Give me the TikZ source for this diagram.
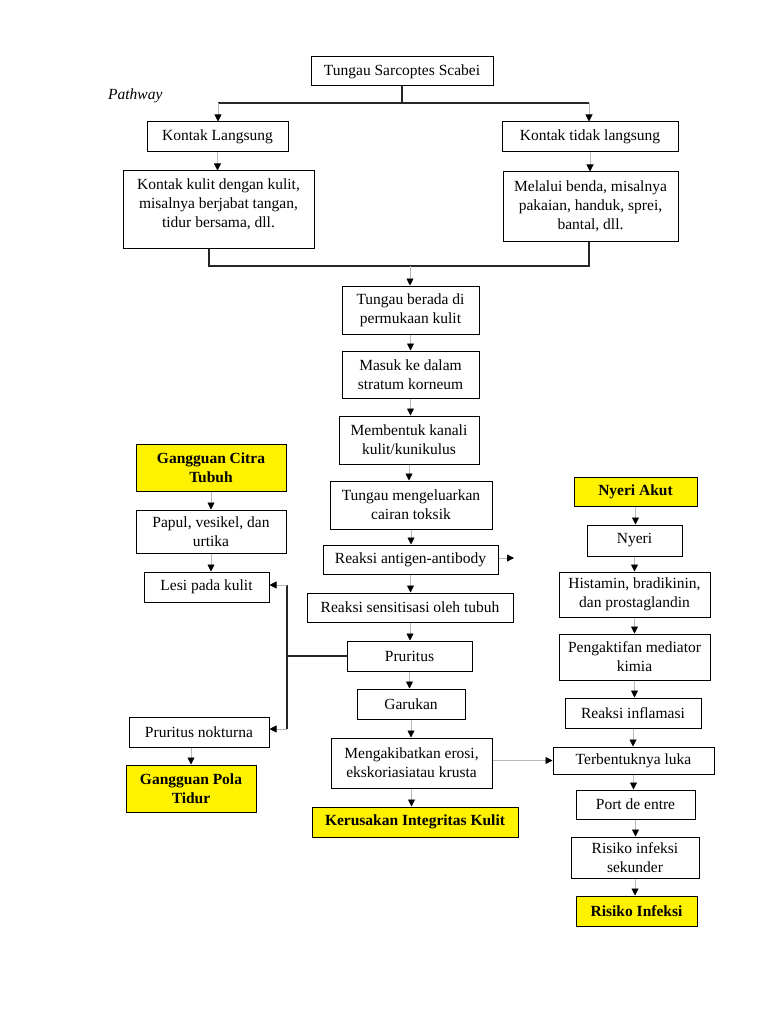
\documentclass[tikz,border=0pt]{standalone}
\usepackage{fontspec}
\setmainfont{Liberation Serif}
\usetikzlibrary{arrows.meta}
\begin{document}
\begin{tikzpicture}[x=1pt,y=-1pt,
  txt/.style={align=center, inner sep=0pt, font=\fontsize{15.5}{19}\selectfont},
  box/.style={draw=black, line width=1pt, fill=white, align=center, inner sep=2pt, font=\fontsize{15.5}{19}\selectfont},
  ybox/.style={box, fill=yellow, font=\fontsize{15.5}{19}\selectfont\bfseries},
  wh/.style 2 args={minimum width=#1pt, minimum height=#2pt},
  arr/.style={draw=black!28, line width=0.9pt, -{Triangle[width=7pt,length=7pt,color=black]}},
  main/.style={draw=black!85, line width=1.2pt}]
\fill[white] (0,0) rectangle (768,1024);
\useasboundingbox (0,0) rectangle (768,1024);

% top part
\node[box, wh={182}{29}] (top) at (402,71.5) {Tungau Sarcoptes Scabei};
\node[txt, anchor=west, font=\fontsize{15.5}{19}\selectfont\itshape] (pw) at (108,96) {Pathway};
\node[box, wh={141}{30}] (kl) at (217.5,137) {Kontak Langsung};
\node[box, wh={176}{30}] (ktl) at (590,137) {Kontak tidak langsung};
\node[box, wh={191}{77}] (kk) at (218.5,209.5) {};
\node[txt] (kkt) at (218.5,204) {Kontak kulit dengan kulit,\\misalnya berjabat tangan,\\tidur bersama, dll.};
\node[box, wh={175}{69}] (mb) at (590.5,206.5) {Melalui benda, misalnya\\pakaian, handuk, sprei,\\bantal, dll.};

% centre column
\node[box, wh={137}{48}] (tb) at (410.5,310) {Tungau berada di\\permukaan kulit};
\node[box, wh={137}{47}] (mk) at (410.5,374.5) {Masuk ke dalam\\stratum korneum};
\node[box, wh={140}{48}] (mbk) at (409,440) {Membentuk kanali\\kulit/kunikulus};
\node[box, wh={162}{48}] (tm) at (411,505) {Tungau mengeluarkan\\cairan toksik};
\node[box, wh={175}{29}] (raa) at (410.5,559.5) {Reaksi antigen-antibody};
\node[box, wh={206}{29}] (rs) at (410,607.5) {Reaksi sensitisasi oleh tubuh};
\node[box, wh={125}{30}] (pr) at (409.5,656) {Pruritus};
\node[box, wh={108}{30}] (gr) at (411,704) {Garukan};
\node[box, wh={161}{50}] (me) at (411.5,763) {Mengakibatkan erosi,\\ekskoriasiatau krusta};
\node[ybox, wh={206}{30}] (kik) at (415,822) {Kerusakan Integritas Kulit};

% left column
\node[ybox, wh={150}{47}] (gct) at (211,467.5) {Gangguan Citra\\Tubuh};
\node[box, wh={150}{43}] (pv) at (211,531.5) {Papul, vesikel, dan\\urtika};
\node[box, wh={125}{30}] (lk) at (206.5,587) {Lesi pada kulit};
\node[box, wh={140}{30}] (pn) at (199,732) {Pruritus nokturna};
\node[ybox, wh={130}{47}] (gpt) at (191,788.5) {Gangguan Pola\\Tidur};

% right column
\node[ybox, wh={123}{29}] (na) at (635.5,491.5) {Nyeri Akut};
\node[box, wh={95}{31}] (ny) at (634.5,540.5) {Nyeri};
\node[box, wh={151}{45}] (hb) at (634.5,594.5) {Histamin, bradikinin,\\dan prostaglandin};
\node[box, wh={151}{46}] (pm) at (634.5,657) {Pengaktifan mediator\\kimia};
\node[box, wh={136}{30}] (ri) at (633,713) {Reaksi inflamasi};
\node[box, wh={161}{27}] (tl) at (633.5,760.5) {Terbentuknya luka};
\node[box, wh={119}{29}] (pde) at (635.5,804.5) {Port de entre};
\node[box, wh={128}{41}] (ris) at (635,857.5) {Risiko infeksi\\sekunder};
\node[ybox, wh={121}{30}] (rif) at (636.5,911) {Risiko Infeksi};

% junction coordinates
\coordinate (hL) at (218,103);
\coordinate (hR) at (589,103);
\coordinate (bL) at (209,266);
\coordinate (bR) at (589,266);
\coordinate (bM) at (410,266);
\coordinate (vT) at (287,585);
\coordinate (vB) at (287,729);
\coordinate (vM) at (287,656);
\coordinate (raaEnd) at (514,558);

% top connectors
\draw[main] (top.south) -- (top.south |- hL);
\draw[main] (hL) -- (hR);
\draw[arr] (hL) -- (hL |- kl.north);
\draw[arr] (hR) -- (hR |- ktl.north);
\draw[arr] (kl.south) -- (kl.south |- kk.north);
\draw[arr] (ktl.south) -- (ktl.south |- mb.north);
\draw[main] (bL |- kk.south) -- (bL) -- (bR) -- (bR |- mb.south);
\draw[arr] (bM) -- (bM |- tb.north);

% centre chain
\draw[arr] (tb.south) -- (tb.south |- mk.north);
\draw[arr] (mk.south) -- (mk.south |- mbk.north);
\draw[arr] (mbk.south) -- (mbk.south |- tm.north);
\draw[arr] (tm.south) -- (tm.south |- raa.north);
\draw[arr] (raa.south) -- (raa.south |- rs.north);
\draw[arr] (rs.south) -- (rs.south |- pr.north);
\draw[arr] (pr.south) -- (pr.south |- gr.north);
\draw[arr] (gr.south) -- (gr.south |- me.north);
\draw[arr] (me.south) -- (me.south |- kik.north);
\draw[arr] (raaEnd -| raa.east) -- (raaEnd);
\draw[arr] (tl.west -| me.east) -- (tl.west);

% left
\draw[arr] (gct.south) -- (gct.south |- pv.north);
\draw[arr] (pv.south) -- (pv.south |- lk.north);
\draw[arr] (pn.south -| gpt.north) -- (gpt.north);
\draw[main] (pr.west) -- (vM);
\draw[main] (vT) -- (vB);
\draw[arr] (vT) -- (vT -| lk.east);
\draw[arr] (vB) -- (vB -| pn.east);

% right chain
\draw[arr] (na.south) -- (na.south |- ny.north);
\draw[arr] (ny.south) -- (ny.south |- hb.north);
\draw[arr] (hb.south) -- (hb.south |- pm.north);
\draw[arr] (pm.south) -- (pm.south |- ri.north);
\draw[arr] (ri.south) -- (ri.south |- tl.north);
\draw[arr] (tl.south) -- (tl.south |- pde.north);
\draw[arr] (pde.south) -- (pde.south |- ris.north);
\draw[arr] (ris.south) -- (ris.south |- rif.north);
\end{tikzpicture}
\end{document}
